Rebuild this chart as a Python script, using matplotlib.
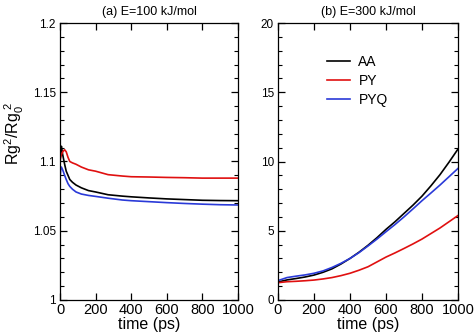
import matplotlib
matplotlib.use("Agg")
import numpy as np
from matplotlib import pyplot as plt
from matplotlib.ticker import MultipleLocator

plt.rcParams['font.family'] = ['Liberation Sans', 'DejaVu Sans']
plt.rcParams['mathtext.fontset'] = 'custom'
plt.rcParams['mathtext.rm'] = 'Liberation Sans'
plt.rcParams['mathtext.it'] = 'Liberation Sans'
plt.rcParams['mathtext.default'] = 'regular'

# panel (a) E=100 kJ/mol
t_a = [0, 4, 8, 15, 26, 35, 45, 55, 70, 90, 120, 160, 200, 270, 350, 400,
       500, 600, 700, 800, 900, 1000]
aa_a = [1.100, 1.108, 1.111, 1.105, 1.098, 1.093, 1.090, 1.087, 1.085, 1.083,
        1.081, 1.079, 1.078, 1.076, 1.075, 1.0745, 1.0737, 1.073, 1.0725,
        1.072, 1.0718, 1.0717]
py_a = [1.100, 1.103, 1.105, 1.107, 1.1085, 1.107, 1.103, 1.100, 1.099,
        1.098, 1.096, 1.094, 1.093, 1.0905, 1.0895, 1.089, 1.0888, 1.0885,
        1.0883, 1.088, 1.088, 1.088]
pyq_a = [1.088, 1.094, 1.096, 1.094, 1.090, 1.087, 1.084, 1.082, 1.080,
         1.078, 1.0765, 1.0755, 1.0748, 1.0735, 1.0722, 1.0717, 1.071,
         1.0703, 1.0697, 1.0692, 1.0688, 1.0686]

# panel (b) E=300 kJ/mol
t_b = [0, 50, 100, 150, 200, 250, 300, 350, 400, 450, 500, 550, 600, 650,
       700, 750, 800, 850, 900, 950, 1000]
aa_b = [1.3, 1.45, 1.55, 1.66, 1.8, 2.0, 2.25, 2.6, 3.0, 3.45, 3.95, 4.5,
        5.1, 5.65, 6.25, 6.85, 7.5, 8.25, 9.05, 9.95, 10.9]
py_b = [1.25, 1.32, 1.35, 1.39, 1.44, 1.52, 1.62, 1.76, 1.93, 2.15, 2.4,
        2.75, 3.1, 3.4, 3.72, 4.05, 4.4, 4.8, 5.2, 5.65, 6.1]
pyq_b = [1.4, 1.62, 1.72, 1.81, 1.93, 2.1, 2.35, 2.65, 3.0, 3.42, 3.9,
         4.4, 4.93, 5.45, 6.0, 6.58, 7.17, 7.73, 8.3, 8.9, 9.5]

labels = ["AA", "PY", "PYQ"]
colors = ["black", "#e01010", "#2a3ad8"]

fig = plt.figure(figsize=(4.74, 3.35), dpi=100)
ax1 = fig.add_axes([60/474, 1-300/335, 178/474, 277/335])
ax2 = fig.add_axes([278/474, 1-300/335, 180/474, 277/335])

for y, c, l in zip([aa_a, py_a, pyq_a], colors, labels):
    ax1.plot(t_a, y, color=c, lw=1.2, label=l)
for y, c, l in zip([aa_b, py_b, pyq_b], colors, labels):
    ax2.plot(t_b, y, color=c, lw=1.2, label=l)

ax1.set_ylim(1, 1.2)
ax1.yaxis.set_minor_locator(MultipleLocator(0.01))
ax1.set_yticks([1, 1.05, 1.1, 1.15, 1.2])
ax1.set_yticklabels(["1", "1.05", "1.1", "1.15", "1.2"])
ax2.set_ylim(0, 20)
ax2.yaxis.set_major_locator(MultipleLocator(5))
ax2.yaxis.set_minor_locator(MultipleLocator(1))

for ax in (ax1, ax2):
    ax.set_xlim(0, 1000)
    ax.xaxis.set_major_locator(MultipleLocator(200))
    ax.tick_params(which='both', direction='in', top=True, right=True)
    ax.tick_params(which='major', length=5, width=0.9)
    ax.tick_params(which='minor', length=2.8, width=0.8)
    ax.tick_params(axis='x', labelsize=10.5, pad=2)
    ax.tick_params(axis='y', labelsize=8.5, pad=3)
    ax.set_xlabel("time (ps)", fontsize=11.5, labelpad=0)
    for s in ax.spines.values():
        s.set_linewidth(0.9)

ax1.set_title("(a) E=100 kJ/mol", fontsize=9, pad=6)
ax2.set_title("(b) E=300 kJ/mol", fontsize=9, pad=6)
ax1.set_ylabel("Rg$^{2}$/Rg$_{0}^{\\ 2}$", fontsize=11.5)
ax1.yaxis.set_label_coords(-0.19, 0.6)

ax2.legend(loc='upper left', bbox_to_anchor=(0.2, 0.93), frameon=False,
           fontsize=10, handlelength=1.7, handletextpad=0.6, labelspacing=0.35)

plt.savefig("out.png", dpi=100)
